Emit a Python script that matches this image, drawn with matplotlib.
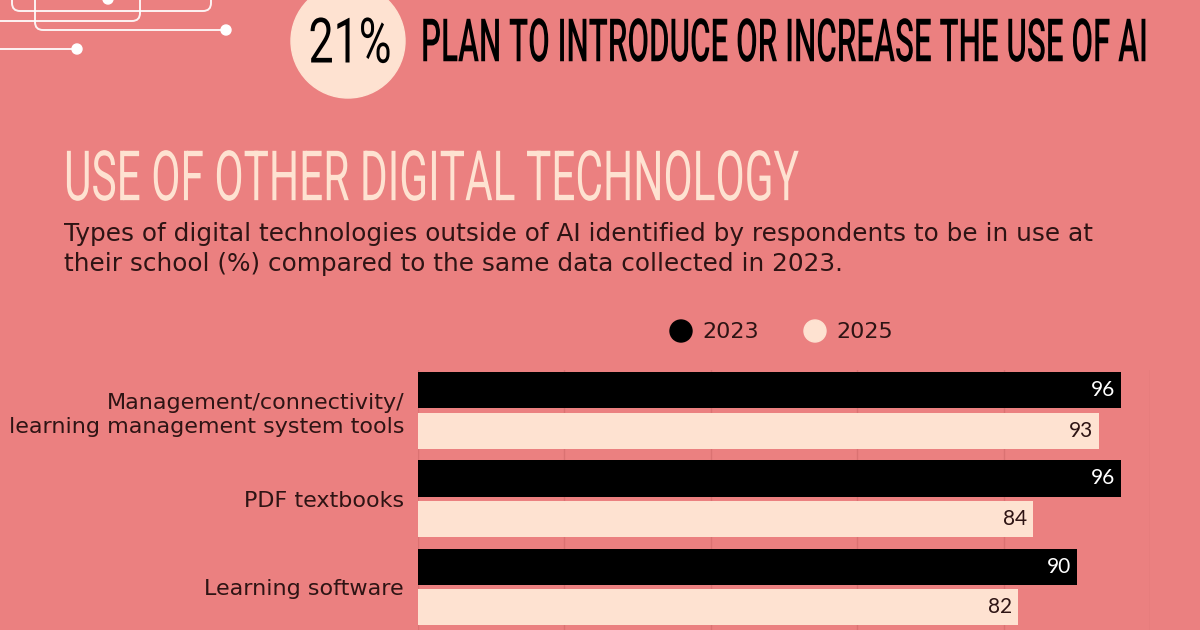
import matplotlib
matplotlib.use("Agg")
import matplotlib.pyplot as plt
import matplotlib.patches as mpatches
from matplotlib.path import Path
from matplotlib.patheffects import AbstractPathEffect
from matplotlib.transforms import Affine2D

# --- data ---
categories = ["Management/connectivity/\nlearning management system tools",
              "PDF textbooks", "Learning software"]
values_2023 = [96, 96, 90]
values_2025 = [93, 84, 82]
series_names = ["2023", "2025"]
x_ticks = [0, 20, 40, 60, 80, 100]

headline_pct = "21%"
headline_text = "PLAN TO INTRODUCE OR INCREASE THE USE OF AI"
title = "USE OF OTHER DIGITAL TECHNOLOGY"
subtitle = ("Types of digital technologies outside of AI identified by respondents to be in use at\n"
            "their school (%) compared to the same data collected in 2023.")

BG = "#EB8080"
PEACH = "#FEE2D1"
DARK = "#2E1414"
GRID = "#DB7272"
W, H = 1200, 630


class Squeeze(AbstractPathEffect):
    """rescale drawn text around an anchor point (display px) -> fake condensed font"""
    def __init__(self, sx, sy, x0, y0):
        super().__init__()
        self.sx, self.sy, self.x0, self.y0 = sx, sy, x0, y0

    def draw_path(self, renderer, gc, tpath, affine, rgbFace=None):
        t = affine + (Affine2D().translate(-self.x0, -self.y0)
                      .scale(self.sx, self.sy).translate(self.x0, self.y0))
        renderer.draw_path(gc, tpath, t, rgbFace)


fig = plt.figure(figsize=(12, 6.3), dpi=100)
fig.patch.set_facecolor(BG)

# overlay in pixel coords (y down)
ov = fig.add_axes([0, 0, 1, 1])
ov.set_xlim(0, W)
ov.set_ylim(H, 0)
ov.axis("off")
ov.set_zorder(0)


# decoration top-left (rounded circuit lines)
def rpath(pts, r=8):
    verts, codes = [pts[0]], [Path.MOVETO]
    for i in range(1, len(pts) - 1):
        (x0, y0), (x1, y1), (x2, y2) = pts[i - 1], pts[i], pts[i + 1]
        d1 = ((x1 - x0) ** 2 + (y1 - y0) ** 2) ** 0.5
        d2 = ((x2 - x1) ** 2 + (y2 - y1) ** 2) ** 0.5
        a = (x1 - (x1 - x0) * r / d1, y1 - (y1 - y0) * r / d1)
        b = (x1 + (x2 - x1) * r / d2, y1 + (y2 - y1) * r / d2)
        verts += [a, (x1, y1), b]
        codes += [Path.LINETO, Path.CURVE3, Path.CURVE3]
    verts.append(pts[-1])
    codes.append(Path.LINETO)
    return mpatches.PathPatch(Path(verts, codes), fill=False, ec="white", lw=1.4, alpha=0.9)


ov.add_patch(rpath([(12, -5), (12, 11), (211, 11), (211, -5)]))
ov.add_patch(rpath([(35, -5), (35, 30), (226, 30)]))
ov.add_patch(rpath([(-5, 21), (140, 21), (140, -5)]))
ov.add_patch(rpath([(0, 49), (77, 49)]))
for cx, cy in [(226, 30), (77, 49), (108, -1)]:
    ov.add_patch(mpatches.Circle((cx, cy), 5, color="white"))

# circle + headline
ov.add_patch(mpatches.Circle((348, 41), 57, color=PEACH))

renderer = fig.canvas.get_renderer()


def condensed(x, y, s, target_w, target_size, shrink=0.6, **kw):
    # draw at a smaller size and stretch back so the text box stays inside the figure
    t = ov.text(x, y, s, fontsize=target_size * shrink, **kw)
    w = t.get_window_extent(renderer).width
    t.set_path_effects([Squeeze(target_w / w, 1 / shrink, x, H - y)])
    return t


condensed(350, 45, headline_pct, 83, 45, ha="center", va="center",
          family="Roboto", color="black")
condensed(421, 45, headline_text, 729, 43, shrink=0.4, ha="left", va="center",
          family="Roboto", fontweight="medium", color="black")
condensed(64, 181, title, 733, 50, ha="left", va="center",
          family="Roboto", color=PEACH)

ov.text(64, 249, subtitle, ha="left", va="center", fontsize=17.8, family="DejaVu Sans",
        color=DARK, linespacing=1.3)

# legend drawn by hand (circles + labels)
for cx, name, col in [(681, series_names[0], "black"), (815, series_names[1], PEACH)]:
    ov.add_patch(mpatches.Circle((cx, 331), 11, color=col))
    ov.text(cx + 21, 332, name, ha="left", va="center", fontsize=16,
            family="DejaVu Sans", color=DARK)

# --- bar chart ---
top_px = 370
ax = fig.add_axes([418 / W, 0, 732 / W, (H - top_px) / H])
ax.set_facecolor("none")
ax.set_zorder(1)

pos = list(range(len(categories)))
h = 0.41
off = 0.229
ax.barh([p - off for p in pos], values_2023, height=h, color="black", zorder=3)
ax.barh([p + off for p in pos], values_2025, height=h, color=PEACH, zorder=3)

for p, v in zip(pos, values_2023):
    ax.text(v - 0.8, p - off, str(v), ha="right", va="center", color="white",
            fontsize=15, family="Lato", zorder=4)
for p, v in zip(pos, values_2025):
    ax.text(v - 0.8, p + off, str(v), ha="right", va="center", color=DARK,
            fontsize=15, family="Lato", zorder=4)

ax.set_xlim(0, 100)
ax.set_ylim(2.49, -0.46)
ax.set_xticks(x_ticks)
ax.xaxis.grid(True, color=GRID, lw=1)
ax.set_axisbelow(True)
ax.tick_params(axis="x", length=0, labelbottom=False)
ax.tick_params(axis="y", length=0, pad=10)
ax.set_yticks(pos)
ax.set_yticklabels(categories, fontsize=16, family="DejaVu Sans", color=DARK,
                   linespacing=1.25)
for s in ax.spines.values():
    s.set_visible(False)

fig.savefig("out.png", dpi=100, facecolor=BG)
